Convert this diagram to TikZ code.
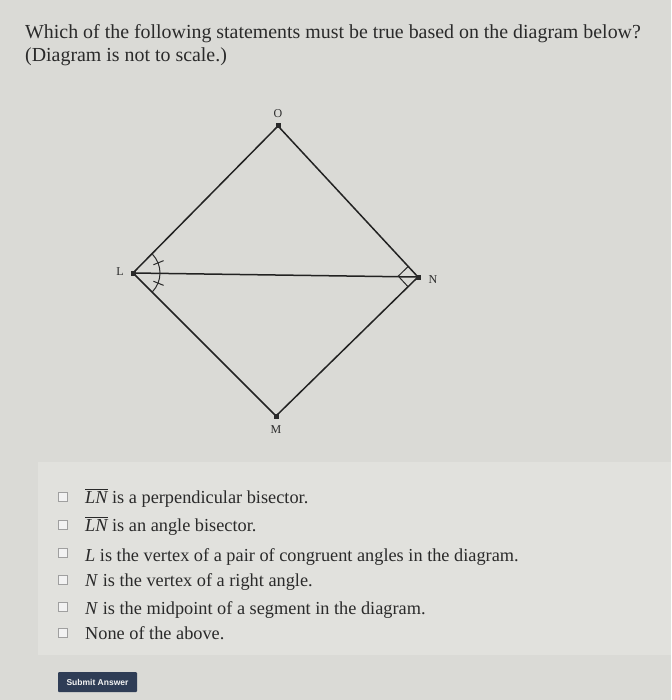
\documentclass[tikz,border=0pt]{standalone}
\usepackage{fontspec}
\usetikzlibrary{calc}
\setmainfont{Liberation Serif}
\newfontfamily\btnfont{Liberation Sans}
\definecolor{bgc}{HTML}{DADAD6}
\definecolor{panelc}{HTML}{E1E1DD}
\definecolor{txt}{HTML}{2A2A2A}
\definecolor{btnc}{HTML}{2F3D56}
\begin{document}
\begin{tikzpicture}[x=1pt,y=-1pt,
  seg/.style={draw=txt!80!black,line width=1.5pt},
  lbl/.style={text=txt,font=\fontsize{12}{14}\selectfont,inner sep=0pt},
  q/.style={text=txt,font=\fontsize{19.9}{23}\selectfont,anchor=base west,inner sep=0pt},
  opt/.style={text=txt,font=\fontsize{18.3}{21}\selectfont,anchor=base west,inner sep=0pt},
  box/.style={draw=gray!75,fill=white!90!gray,line width=0.7pt,minimum size=9pt,inner sep=0pt}]
\fill[bgc] (0,0) rectangle (671,700);
\useasboundingbox (0,0) rectangle (671,700);
\fill[panelc] (38,462) rectangle (671,655);
\node[q] (q1) at (25,39) {Which of the following statements must be true based on the diagram below?};
\node[q] (q2) at (25,62) {(Diagram is not to scale.)};
% vertices
\coordinate (O) at (278,126);
\coordinate (L) at (133,273);
\coordinate (N) at (418,277);
\coordinate (M) at (276,416);
\draw[seg,line join=miter] (L) -- (O) -- (N) -- (M) -- cycle;
\draw[seg] (L) -- (N);
\foreach \p in {O,L,N,M} \fill[txt] (\p) ++(-2.5,-2.5) rectangle ++(5,5);
\node[lbl] (lO) at (278,114) {O};
\node[lbl] (lL) at (120,272) {L};
\node[lbl] (lN) at (433,280) {N};
\node[lbl] (lM) at (276,430) {M};
% angle arc at L
\draw[txt,line width=1pt] (L) ++(44:27) arc[start angle=44,end angle=-44,radius=27];
\draw[txt,line width=1pt] (L) ++(22:22) -- ++(22:11);
\draw[txt,line width=1pt] (L) ++(-22:22) -- ++(-22:11);
% right angle mark at N
\path (N) -- (O) coordinate[pos=0.07] (a1);
\path (N) -- (M) coordinate[pos=0.07] (a2);
\draw[txt,line width=1pt] (a1) -- ($(a1)+(a2)-(N)$) -- (a2);
% options
\node[box] (b1) at (63,497) {};
\node[opt] (t1) at (85,503) {$\overline{\mbox{\itshape LN}}$ is a perpendicular bisector.};
\node[box] (b2) at (63,525) {};
\node[opt] (t2) at (85,531) {$\overline{\mbox{\itshape LN}}$ is an angle bisector.};
\node[box] (b3) at (63,553) {};
\node[opt] (t3) at (85,561) {\textit{L} is the vertex of a pair of congruent angles in the diagram.};
\node[box] (b4) at (63,580) {};
\node[opt] (t4) at (85,586) {\textit{N} is the vertex of a right angle.};
\node[box] (b5) at (63,607) {};
\node[opt] (t5) at (85,614) {\textit{N} is the midpoint of a segment in the diagram.};
\node[box] (b6) at (63,633) {};
\node[opt] (t6) at (85,639) {None of the above.};
% button
\node[fill=btnc,text=white!92!gray,font=\btnfont\bfseries\fontsize{8.5}{10}\selectfont,minimum width=79pt,minimum height=20pt,inner sep=0pt,rounded corners=1pt] (btn) at (97.5,682) {Submit Answer};
\end{tikzpicture}
\end{document}
